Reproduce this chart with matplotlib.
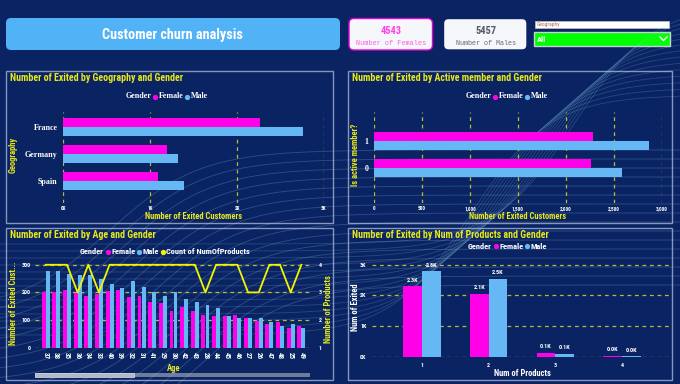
import numpy as np
import matplotlib
matplotlib.use('Agg')
import matplotlib.pyplot as plt
from matplotlib import font_manager as fm
from matplotlib.patches import FancyBboxPatch, Rectangle
from matplotlib.ticker import FuncFormatter

W, H = 680, 384

# ---- data ----
total_female = 4543
total_male = 5457

geo = ['France', 'Germany', 'Spain']
geo_female = [2261, 1193, 1089]
geo_male = [2753, 1316, 1388]

active = ['0', '1']
active_female = [2259, 2284]
active_male = [2590, 2867]

ages = ['37', '38', '35', '36', '34', '33', '40', '39', '32', '31', '41', '29', '30',
        '42', '43', '28', '44', '45', '46', '27', '26', '47', '48', '25', '49']
age_female = [201, 201, 210, 198, 186, 194, 204, 208, 182, 187, 166, 163, 131,
              147, 131, 120, 114, 116, 120, 106, 96, 87, 93, 70, 78]
age_male = [277, 277, 265, 263, 261, 249, 229, 216, 240, 218, 201, 188, 200,
            175, 167, 154, 145, 116, 107, 106, 106, 93, 78, 87, 71]
age_products = [4, 4, 4, 3, 4, 3, 4, 4, 4, 4, 4, 4, 4,
                4, 4, 3, 4, 4, 4, 3, 3, 4, 4, 3, 4]

products = ['1', '2', '3', '4']
prod_female = [2296, 2060, 145, 40]
prod_male = [2788, 2530, 110, 20]


def pick(names):
    for n in names:
        try:
            fm.findfont(fm.FontProperties(family=n), fallback_to_default=False)
            return n
        except ValueError:
            pass
    return 'DejaVu Sans'


# ---- style ----
BG = '#0a2463'
PINK = '#ff00e8'
BLUE = '#66b8f4'
YEL = '#e8e81c'
GRID = '#b8b83a'
NARROW = [pick(['Roboto Condensed', 'Liberation Sans Narrow', 'Roboto']), 'DejaVu Sans']
SERIF = ['Liberation Serif', 'DejaVu Serif']
MONO = ['Liberation Mono', 'DejaVu Sans Mono']


def rect(x0, y0, x1, y1):
    return [x0 / W, 1 - y1 / H, (x1 - x0) / W, (y1 - y0) / H]


fig = plt.figure(figsize=(W / 100, H / 100), dpi=100)
fig.patch.set_facecolor(BG)
rend = fig.canvas.get_renderer()

bg = fig.add_axes([0, 0, 1, 1], zorder=0)
bg.set_xlim(0, W)
bg.set_ylim(H, 0)
bg.axis('off')


def width_of(t):
    bb = t.get_window_extent(rend)
    return max(bb.width, bb.height) if t.get_rotation() else bb.width


def fit_size(t, target):
    # scale a text so that it spans the width seen on the dashboard
    t.set_fontsize(t.get_fontsize() * target / width_of(t))
    return t.get_fontsize()


def measured_size(s, family, target):
    probe = bg.text(W / 2, H / 2, s, fontsize=6, fontweight='bold', family=family)
    size = fit_size(probe, target)
    probe.remove()
    return size


def label(x, y, s, size=6, color=YEL, family=NARROW, **kw):
    kw.setdefault('ha', 'center')
    return bg.text(x, y, s, color=color, fontsize=size, fontweight='bold',
                   family=family, va='center', **kw)


# decorative background waves
xs = np.linspace(0, W, 300)
for k in range(16):
    y = 150 + k * 9 + 160 / (1 + np.exp((xs - 110 - k * 6) / 45))
    bg.plot(xs, y, color='#9ad8f2', lw=0.6, alpha=0.24)
for k in range(14):
    y = 335 - k * 7 - 240 / (1 + np.exp(-(xs - 470 - k * 8) / 40))
    bg.plot(xs, y, color='#9ad8f2', lw=0.6, alpha=0.2)

# header
bg.add_patch(FancyBboxPatch((6, 18), 334, 32, boxstyle='round,pad=0,rounding_size=5',
                            fc='#52b2f6', ec='none'))
t = label(172, 34.5, 'Customer churn analysis', 10, color='white')
fit_size(t, 141)

bg.add_patch(FancyBboxPatch((349, 18.5), 83.5, 31.5, boxstyle='round,pad=0,rounding_size=5',
                            fc='#f6f7fa', ec='#e000d8', lw=1))
label(391, 31, str(total_female), 7.5, color='#ff40e8')
t = bg.text(391, 43.5, 'Number of Females', color='#ff60e0', fontsize=5, family=MONO,
            ha='center', va='center')
fit_size(t, 71)

bg.add_patch(FancyBboxPatch((443.5, 18.5), 83.5, 31.5, boxstyle='round,pad=0,rounding_size=5',
                            fc='#f6f7fa', ec='#0a2463', lw=1))
label(486, 31, str(total_male), 7.5, color='#555a66')
t = bg.text(486, 43.5, 'Number of Males', color='#666a74', fontsize=5, family=MONO,
            ha='center', va='center')
fit_size(t, 62.5)

bg.add_patch(Rectangle((535, 20.5), 134, 7.5, fc='white', ec='#c0c0c0', lw=0.5))
bg.text(536.5, 24.3, 'Geography', color='#b07050', fontsize=4, family=NARROW, va='center')
bg.add_patch(Rectangle((534, 31.5), 136, 14.5, fc='#00ff00', ec='#c8d0d8', lw=1))
label(537, 39, 'All', 6, color='white', ha='left')
bg.plot([660, 663.5, 667], [37, 40.5, 37], color='white', lw=1)

# panel frames and titles
panels = [(6, 71, 333, 222.5, 'Number of Exited by Geography and Gender'),
          (348, 71, 672, 222.5, 'Number of Exited by Active member and Gender'),
          (6, 227.5, 333, 379.5, 'Number of Exited by Age and Gender'),
          (348, 227.5, 672, 379.5, 'Number of Exited by Num of Products and Gender')]
title_size = measured_size(panels[0][4], NARROW, 172)
for x0, y0, x1, y1, title in panels:
    bg.add_patch(Rectangle((x0, y0), x1 - x0, y1 - y0, fill=False, ec='#8796bd', lw=1))
    label(x0 + 4, y0 + 7, title, title_size, ha='left')

axis_size = measured_size('Number of Exited Customers', NARROW, 97.7)
serif_leg = measured_size('Female', SERIF, 25)
cond_leg = measured_size('Female', NARROW, 24.3)


def legend(x, y, entries, family, size):
    # entries: list of (label, dot colour or None); laid out left to right
    for text, col in entries:
        if col is not None:
            bg.plot(x + 2.2, y, 'o', color=col, ms=3.8, mec='none')
            x += 5.5
        t = bg.text(x, y, text, color='white', fontsize=size, fontweight='bold',
                    family=family, va='center')
        x += t.get_window_extent(rend).width + 1.8


def hbar_chart(pos, cats, fem, mal, ticks, fmt, ylims, invert):
    ax = fig.add_axes(rect(*pos), zorder=2)
    ax.set_facecolor('none')
    y = np.arange(len(cats))
    off = -0.165 if invert else 0.165
    ax.barh(y + off, fem, height=0.33, color=PINK)
    ax.barh(y - off, mal, height=0.33, color=BLUE)
    ax.set_xlim(0, 3000)
    ax.set_ylim(*ylims)
    ax.set_xticks(ticks)
    ax.xaxis.set_major_formatter(FuncFormatter(fmt))
    ax.set_yticks(y)
    ax.set_yticklabels(cats, family=SERIF, fontsize=5.8, fontweight='bold', color='white')
    ax.grid(axis='x', color=GRID, ls=(0, (3, 3)), lw=0.9)
    ax.set_axisbelow(True)
    for s in ax.spines.values():
        s.set_visible(False)
    ax.tick_params(length=0, colors='white', pad=4)
    ax.tick_params(axis='x', labelsize=3.8, pad=2)
    for t in ax.get_xticklabels():
        t.set_fontweight('bold')
        t.set_family(NARROW)
    return ax


ax1 = hbar_chart((63.3, 111.7, 324, 203.3), geo, geo_female, geo_male,
                 [0, 1000, 2000, 3000], lambda v, p: '{:.0f}K'.format(v / 1000),
                 (2.8, -0.56), True)
ax2 = hbar_chart((374.3, 111.7, 661.7, 203.3), active, active_female, active_male,
                 np.arange(0, 3001, 500), lambda v, p: '{:,.0f}'.format(v),
                 (-1.32, 2.09), False)

label(193.8, 216.8, 'Number of Exited Customers', axis_size)
label(518, 216.8, 'Number of Exited Customers', axis_size)
label(13.3, 155, 'Geography', axis_size, rotation=90)
label(356, 155, 'Is active member?', axis_size, rotation=90)

legend(125.5, 96.5, [('Gender', None), ('Female', PINK), ('Male', BLUE)], SERIF, serif_leg)
legend(465.5, 96.5, [('Gender', None), ('Female', PINK), ('Male', BLUE)], SERIF, serif_leg)

# ---- age chart ----
ax3 = fig.add_axes(rect(35, 262, 312, 347.7), zorder=2)
ax3.set_facecolor('none')
xa = np.arange(len(ages))
ax3.bar(xa - 0.19, age_female, width=0.37, color=PINK)
ax3.bar(xa + 0.19, age_male, width=0.37, color=BLUE)
ax3.set_xlim(-1, 25)
ax3.set_ylim(0, 309.8)
ax3.set_yticks([0, 100, 200, 300])
ax3.set_xticks(xa)
ax3.set_xticklabels(ages, rotation=-90)
ax3.grid(axis='y', color=GRID, ls=(0, (3, 3)), lw=0.9)
ax3.set_axisbelow(True)
ax3.tick_params(length=0, colors='white', labelsize=4.3, pad=3)
ax3.tick_params(axis='x', labelsize=5)
ax3r = ax3.twinx()
ax3r.plot(xa, age_products, color='#f4f400', lw=1.3)
ax3r.set_ylim(1, 4.1)
ax3r.set_yticks([1, 2, 3, 4])
ax3r.tick_params(length=0, colors='white', labelsize=4.3, pad=5)
for a in (ax3, ax3r):
    for s in a.spines.values():
        s.set_visible(False)
    for t in a.get_xticklabels() + a.get_yticklabels():
        t.set_fontweight('bold')
        t.set_family(NARROW)

label(13.3, 303.7, 'Number of Exited Cust...', axis_size, rotation=90)
label(328.5, 308.7, 'Number of Products', axis_size, rotation=90)
label(173.3, 368.7, 'Age', axis_size)
legend(80, 252, [('Gender', None), ('Female', PINK), ('Male', BLUE),
                 ('Count of NumOfProducts', '#f4f400')], NARROW, cond_leg)

bg.add_patch(Rectangle((35, 372.5), 275, 4.5, fc='#6e7c9c', ec='none'))
bg.add_patch(Rectangle((35, 372.5), 99, 4.5, fc='#b4b8c6', ec='#e0e0e8', lw=0.5))

# ---- products chart ----
ax4 = fig.add_axes(rect(372, 262, 670, 357), zorder=2)
ax4.set_facecolor('none')
xp = np.arange(1, len(products) + 1)
bf = ax4.bar(xp - 0.14, prod_female, width=0.28, color=PINK)
bm = ax4.bar(xp + 0.14, prod_male, width=0.28, color=BLUE)
for bars in (bf, bm):
    for b in bars:
        ax4.text(b.get_x() + b.get_width() / 2, b.get_height() + 120,
                 '{:.1f}K'.format(b.get_height() / 1000), color='white', fontsize=4.5,
                 fontweight='bold', family=NARROW, ha='center', va='bottom')
ax4.set_xlim(0.25, 4.72)
ax4.set_ylim(0, 3088)
ax4.set_yticks([0, 1000, 2000, 3000])
ax4.yaxis.set_major_formatter(FuncFormatter(lambda v, p: '{:.0f}K'.format(v / 1000)))
ax4.set_xticks(xp)
ax4.set_xticklabels(products)
ax4.grid(axis='y', color=GRID, ls=(0, (3, 3)), lw=0.9)
ax4.set_axisbelow(True)
ax4.tick_params(length=0, colors='white', labelsize=4.3, pad=4)
for s in ax4.spines.values():
    s.set_visible(False)
for t in ax4.get_xticklabels() + ax4.get_yticklabels():
    t.set_fontweight('bold')
    t.set_family(NARROW)

label(356, 307, 'Num of Exited', axis_size, color='white', rotation=90)
label(522.7, 373.5, 'Num of Products', axis_size, color='white')
legend(468, 246.3, [('Gender', None), ('Female', PINK), ('Male', BLUE)], NARROW, cond_leg)

fig.savefig('out.png', dpi=100, facecolor=BG)
